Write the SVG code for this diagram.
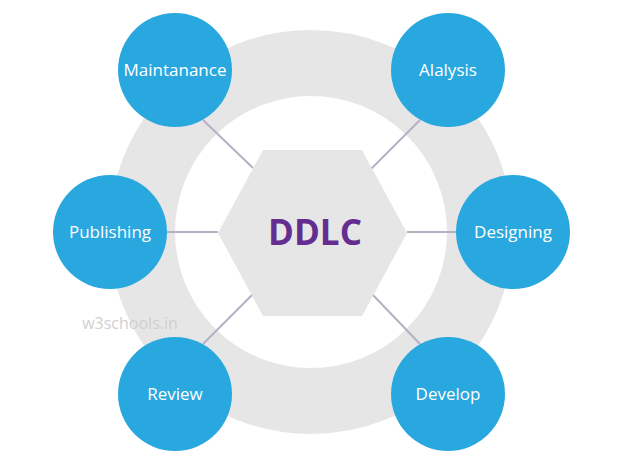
<svg xmlns="http://www.w3.org/2000/svg" width="620" height="465" viewBox="0 0 620 465">
<style>
.n{fill:#29a8e0}
.t{font-family:"Open Sans","Liberation Sans",sans-serif;font-size:17px;fill:#fff;text-anchor:middle}
.c{stroke:#b9aec4;stroke-width:2}
</style>
<rect width="620" height="465" fill="#fff"/>
<circle cx="311" cy="232" r="169" fill="none" stroke="#e6e6e6" stroke-width="66"/>
<g id="connectors">
<line class="c" x1="203" y1="120" x2="253" y2="168"/>
<line class="c" x1="420" y1="120" x2="370" y2="170"/>
<line class="c" x1="166" y1="232" x2="218" y2="232"/>
<line class="c" x1="407" y1="232" x2="457" y2="232"/>
<line class="c" x1="203" y1="344" x2="253" y2="294"/>
<line class="c" x1="420" y1="344" x2="372" y2="294"/>
</g>
<g id="hub">
<polygon points="218,233 263,150 362,150 407,233 362,316 263,316" fill="#e6e6e6"/>
<text x="315" y="245" font-family="'Open Sans','Liberation Sans',sans-serif" font-size="35" font-weight="bold" fill="#662d91" text-anchor="middle">DDLC</text>
</g>
<text x="130" y="329" font-family="'Open Sans','Liberation Sans',sans-serif" font-size="16" fill="#d0d0d0" text-anchor="middle">w3schools.in</text>
<g id="maint"><circle class="n" cx="175" cy="70" r="57"/><text class="t" x="175" y="76">Maintanance</text></g>
<g id="analysis"><circle class="n" cx="448" cy="70" r="57"/><text class="t" x="448" y="76">Alalysis</text></g>
<g id="publishing"><circle class="n" cx="110" cy="232" r="57"/><text class="t" x="110" y="238">Publishing</text></g>
<g id="designing"><circle class="n" cx="513" cy="232" r="57"/><text class="t" x="513" y="238">Designing</text></g>
<g id="review"><circle class="n" cx="175" cy="394" r="57"/><text class="t" x="175" y="400">Review</text></g>
<g id="develop"><circle class="n" cx="448" cy="394" r="57"/><text class="t" x="448" y="400">Develop</text></g>
</svg>
